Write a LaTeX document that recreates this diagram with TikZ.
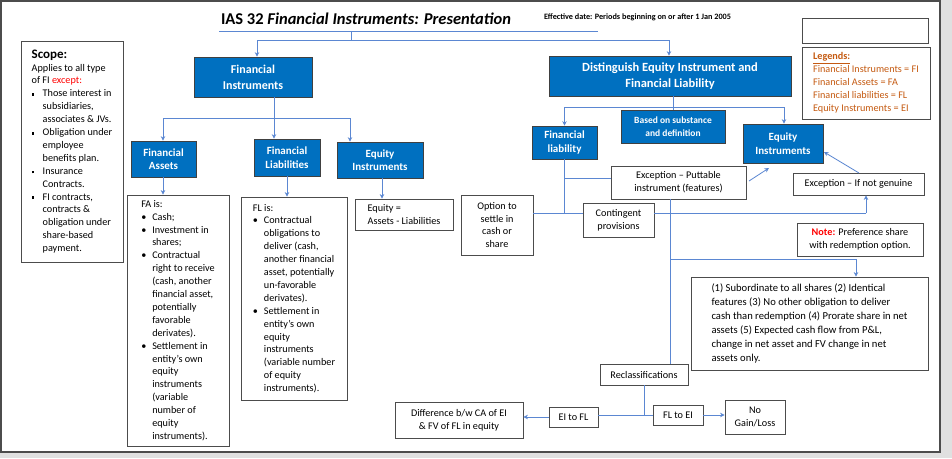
\documentclass[tikz,border=0pt]{standalone}
\usepackage{fontspec}
\setmainfont{Carlito}
\usetikzlibrary{arrows.meta}
\definecolor{fiblue}{RGB}{0,112,192}
\definecolor{lineblue}{RGB}{91,135,210}
\definecolor{legor}{RGB}{197,90,17}
\newcommand\bl{\makebox[11pt][l]{\textbullet}}
\newcommand\sq{\makebox[11pt][l]{\rule[1pt]{2.6pt}{2.6pt}}}
\newcommand\ind{\hspace*{11pt}}
\begin{document}
\begin{tikzpicture}[x=1pt,y=-1pt,
  blue/.style={fill=fiblue,draw=black!75,line width=0.7pt,text=white,font=\bfseries\fontsize{11}{13.5}\selectfont,align=center,inner sep=0},
  wbox/.style={draw=black!70,line width=0.8pt,fill=white,font=\fontsize{10.2}{12.9}\selectfont,align=center,inner sep=0},
  conn/.style={draw=lineblue,line width=0.8pt},
  arr/.style={conn,-{Stealth[length=4.5pt,width=4.5pt]}}]
\useasboundingbox (0,0) rectangle (952,458);
\fill[black!12] (0,0) rectangle (952,458);
\fill[white] (1,1) rectangle (940,452);
\draw[black!70,line width=1.5pt] (1,1) rectangle (940,452);
% title
\node[font=\bfseries\fontsize{16.5}{19}\selectfont,anchor=center] (title) at (366,19) {IAS 32 \textit{Financial Instruments: Presentation}};
\node[font=\bfseries\fontsize{8.2}{9}\selectfont,anchor=west,inner sep=0] (eff) at (544,17) {Effective date: Periods beginning on or after 1 Jan 2005};
\coordinate (ul1) at (219,31); \coordinate (ul2) at (598,31);
\coordinate (s1) at (351,31); \coordinate (s2) at (351,40);
\coordinate (h1) at (257,40); \coordinate (h2) at (669,40);
% boxes
\node[wbox,minimum width=126,minimum height=25] (empty) at (865,30.5) {};
\node[wbox,minimum width=128,minimum height=72,align=left,text=legor] (legend) at (866,83) {\textbf{\underline{Legends:}}\\Financial Instruments = FI\\Financial Assets = FA\\Financial liabilities = FL\\Equity Instruments = EI};
\node[wbox,minimum width=102,minimum height=221,align=left] (scope) at (72,151.5) {{\bfseries\fontsize{13}{15}\selectfont Scope:}\\Applies to all type\\of FI \textcolor{red}{except:}\\\sq Those interest in\\\ind subsidiaries,\\\ind associates \& JVs.\\\sq Obligation under\\\ind employee\\\ind benefits plan.\\\sq Insurance\\\ind Contracts.\\\sq FI contracts,\\\ind contracts \&\\\ind obligation under\\\ind share-based\\\ind payment.};
\node[blue,minimum width=118,minimum height=40,font=\bfseries\fontsize{12}{16}\selectfont] (fi) at (253,77) {Financial\\Instruments};
\node[blue,minimum width=65,minimum height=36] (fa) at (163.5,159) {Financial\\Assets};
\node[blue,minimum width=66,minimum height=37] (fl) at (287,157.5) {Financial\\Liabilities};
\node[blue,minimum width=86,minimum height=36] (ei) at (380,160) {Equity\\Instruments};
\node[wbox,minimum width=102,minimum height=251,align=left] (fat) at (178,320.5) {FA is:\\\bl Cash;\\\bl Investment in\\\ind shares;\\\bl Contractual\\\ind right to receive\\\ind (cash, another\\\ind financial asset,\\\ind potentially\\\ind favorable\\\ind derivates).\\\bl Settlement in\\\ind entity's own\\\ind equity\\\ind instruments\\\ind (variable\\\ind number of\\\ind equity\\\ind instruments).};
\node[wbox,minimum width=106,minimum height=203,align=left] (flt) at (294,298.5) {FL is:\\\bl Contractual\\\ind obligations to\\\ind deliver (cash,\\\ind another financial\\\ind asset, potentially\\\ind un-favorable\\\ind derivates).\\\bl Settlement in\\\ind entity's own\\\ind equity\\\ind instruments\\\ind (variable number\\\ind of equity\\\ind instruments).};
\node[wbox,minimum width=98,minimum height=31,align=left] (eqt) at (404,214.5) {Equity =\\Assets - Liabilities};
\node[blue,minimum width=242,minimum height=40,font=\bfseries\fontsize{12.5}{16}\selectfont] (dist) at (670,76) {Distinguish Equity Instrument and\\Financial Liability};
\node[blue,minimum width=104,minimum height=33,font=\bfseries\fontsize{9.5}{12.5}\selectfont] (based) at (673,126.5) {Based on substance\\and definition};
\node[blue,minimum width=65,minimum height=33] (fliab) at (564.5,142.5) {Financial\\liability};
\node[blue,minimum width=80,minimum height=39] (ei2) at (783,143.5) {Equity\\Instruments};
\node[wbox,minimum width=135,minimum height=33] (put) at (678.5,182.5) {Exception -- Puttable\\instrument (features)};
\node[wbox,minimum width=131,minimum height=22] (gen) at (858.5,184) {Exception -- If not genuine};
\node[wbox,minimum width=72,minimum height=60] (opt) at (497,225) {Option to\\settle in\\cash or\\share};
\node[wbox,minimum width=71,minimum height=34] (cont) at (618.5,220) {Contingent\\provisions};
\node[wbox,minimum width=126,minimum height=33] (note) at (860,239.5) {\textcolor{red}{\textbf{Note:}} Preference share\\with redemption option.};
\node[wbox,minimum width=237,minimum height=93,align=left,font=\fontsize{10.6}{14}\selectfont] (big) at (809.5,323.5) {(1) Subordinate to all shares (2) Identical\\features (3) No other obligation to deliver\\cash than redemption (4) Prorate share in net\\assets (5) Expected cash flow from P\&L,\\change in net asset and FV change in net\\assets only.};
\node[wbox,minimum width=88,minimum height=21] (rec) at (644,374.5) {Reclassifications};
\node[wbox,minimum width=49,minimum height=20] (eifl) at (573.5,417) {EI to FL};
\node[wbox,minimum width=128,minimum height=36] (diff) at (459,420) {Difference b/w CA of EI\\\& FV of FL in equity};
\node[wbox,minimum width=50,minimum height=20] (flei) at (678,415) {FL to EI};
\node[wbox,minimum width=60,minimum height=34] (no) at (755,417) {No\\Gain/Loss};
% connectors
\draw[conn] (ul1) -- (ul2);
\draw[conn] (s1) -- (s2);
\draw[conn] (h1) -- (h2);
\draw[arr] (h1) -- (h1 |- fi.north);
\draw[arr] (h2) -- (h2 |- dist.north);
\draw[conn] (274,97) -- (274,118);
\draw[conn] (163,118) -- (350,118);
\draw[arr] (163,118) -- (163,0 |- fa.north);
\draw[arr] (274,118) -- (274,0 |- fl.north);
\draw[arr] (350,118) -- (350,0 |- ei.north);
\draw[arr] (163,177) -- (163,0 |- fat.north);
\draw[arr] (287,176) -- (287,0 |- flt.north);
\draw[arr] (382,178) -- (382,0 |- eqt.north);
\draw[conn] (673,96) -- (based.north);
\draw[conn] (564.5,107) -- (784,107);
\draw[arr] (564.5,107) -- (fliab.north);
\draw[arr] (784,107) -- (784,0 |- ei2.north);
\draw[conn] (fliab.south) -- (564.5,213);
\draw[conn] (564.5,178) -- (put.west |- 0,178);
\draw[conn] (opt.east |- 0,213) -- (cont.west |- 0,213);
\draw[arr] (749,181) -- (769,168);
\draw[conn] (cont.east |- 0,213) -- (866,213);
\draw[arr] (866,213) -- (866,0 |- gen.south);
\draw[arr] (859,173) -- (824,152);
\draw[conn] (670,199) -- (670,0 |- rec.north);
\draw[conn] (670,259) -- (856,259);
\draw[arr] (856,259) -- (856,0 |- big.north);
\draw[conn] (644,0 |- rec.south) -- (644,415);
\draw[conn] (eifl.east |- 0,415) -- (flei.west);
\draw[arr] (eifl.west) -- (diff.east |- eifl.west);
\draw[arr] (flei.east) -- (no.west |- flei.east);
\end{tikzpicture}
\end{document}
